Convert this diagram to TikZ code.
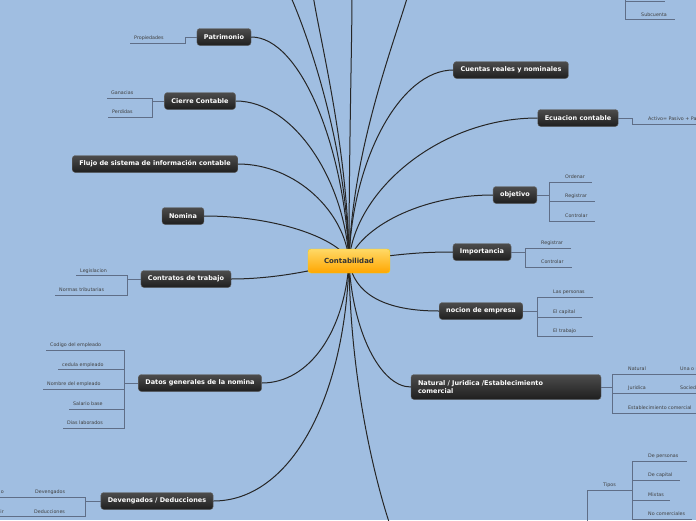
\documentclass[tikz,border=0pt]{standalone}
\usepackage{fontspec}
\setmainfont{DejaVu Sans}
\definecolor{lcol}{RGB}{95,110,135}
\begin{document}
\begin{tikzpicture}[x=1pt,y=-1pt,
  topic/.style={rounded corners=3pt,top color=black!70,bottom color=black!88,draw=black!60,
    text=white,font=\fontsize{6.5}{7.5}\selectfont\bfseries,minimum height=17pt,inner xsep=7pt,inner ysep=2pt},
  edge/.style={draw=black!85,line width=1pt},
  leaf/.style={font=\fontsize{4.8}{5}\selectfont,text=black!75,anchor=base west,inner sep=0pt},
  lline/.style={draw=lcol,line width=0.8pt}]
\path[use as bounding box,fill={rgb,255:red,160;green,190;blue,225}] (0,0) rectangle (696,520);
\begin{scope}
\clip (0,0) rectangle (696,520);
\coordinate (c) at (349,261);
\foreach \n/\x in {t1/290,t2/313,t3/352,t4/408}{\coordinate (\n) at (\x,-5);}
\coordinate (b1) at (390,525);
\coordinate (b2) at (587,530);
% topic nodes
\node[topic] (pat) at (224,37) {Patrimonio};
\node[topic] (cie) at (200,101) {Cierre Contable};
\node[topic] (flu) at (155,164) {Flujo de sistema de información contable};
\node[topic] (nom) at (183,216) {Nomina};
\node[topic] (con) at (186,279) {Contratos de trabajo};
\node[topic] (dat) at (200,383) {Datos generales de la nomina};
\node[topic] (dev) at (157,501) {Devengados / Deducciones};
\node[topic] (cue) at (511,70) {Cuentas reales y nominales};
\node[topic] (ecu) at (578,118) {Ecuacion contable};
\node[topic] (obj) at (515,195) {objetivo};
\node[topic] (imp) at (482,252) {Importancia};
\node[topic] (noc) at (481,311) {nocion de empresa};
\node[topic,text width=176pt,align=left,font=\fontsize{6.5}{8}\selectfont\bfseries,minimum height=25pt] (nat) at (506,387) {Natural / Juridica /Establecimiento\\comercial};
% edges
\begin{scope}[edge]
\draw (c) .. controls (345,149) and (301,37) .. (pat.east);
\draw (c) .. controls (345,181) and (294,101) .. (cie.east);
\draw (c) .. controls (345,212) and (296,164) .. (flu.east);
\draw (c) .. controls (340,240) and (280,216) .. (nom.east);
\draw (c) .. controls (300,275) and (260,279) .. (con.east);
\draw (c) .. controls (345,330) and (310,383) .. (dat.east);
\draw (c) .. controls (345,400) and (290,501) .. (dev.east);
\draw (c) .. controls (352,160) and (400,70) .. (cue.west);
\draw (c) .. controls (355,190) and (440,118) .. (ecu.west);
\draw (c) .. controls (360,228) and (420,195) .. (obj.west);
\draw (c) .. controls (400,254) and (420,252) .. (imp.west);
\draw (c) .. controls (355,300) and (395,311) .. (noc.west);
\draw (c) .. controls (352,330) and (380,387) .. (nat.west);
\draw (c) .. controls (347,150) and (310,40) .. (t1);
\draw (c) .. controls (348,150) and (320,40) .. (t2);
\draw (c) .. controls (349,150) and (352,40) .. (t3);
\draw (c) .. controls (352,150) and (395,40) .. (t4);
\draw (c) .. controls (350,380) and (375,480) .. (b1);
\end{scope}
\node[rounded corners=3pt,top color=yellow!50!orange!60,bottom color=orange!70!yellow,draw=yellow!70!orange,
  font=\fontsize{7}{8}\selectfont\bfseries,text=black!80,minimum width=82pt,minimum height=24pt] (ctr) at (c) {Contabilidad};
% leaves
\begin{scope}[lline]
\draw (pat.west) -- (185,37) -- (185,43) -- (130,43);
\draw (cie.west) -- (152,101); \draw (107,98) -- (152,98) -- (152,117) -- (108,117);
\draw (con.west) -- (127,279); \draw (76,275) -- (127,275) -- (127,295) -- (55,295);
\draw (dat.west) -- (124,383); \draw (46,350) -- (124,350) -- (124,428) -- (63,428);
\draw (58,369) -- (124,369); \draw (43,389) -- (124,389); \draw (69,409) -- (124,409);
\draw (dev.west) -- (85,501); \draw (0,497) -- (85,497) -- (85,516) -- (0,516);
\draw (ecu.east) -- (632,118) -- (632,124) -- (696,124);
\draw (625,-2) -- (625,19) -- (675,19); \draw (625,1) -- (665,1);
\draw (obj.east) -- (549,195); \draw (549,182) -- (592,182); \draw (549,182) -- (549,221) -- (595,221); \draw (549,201) -- (595,201);
\draw (imp.east) -- (525,252); \draw (571,248) -- (525,248) -- (525,267) -- (572,267);
\draw (noc.east) -- (537,311); \draw (593,297) -- (537,297) -- (537,336) -- (593,336); \draw (537,317) -- (582,317);
\draw (nat.east) -- (612,387); \draw (696,374) -- (612,374) -- (612,413) -- (696,413); \draw (612,393) -- (696,393);
\draw (b2) -- (587,490) -- (632,490); \draw (632,461) -- (687,461); \draw (632,461) -- (632,519) -- (692,519);
\draw (632,480) -- (680,480); \draw (632,500) -- (670,500);
\end{scope}
\node[leaf] (l1) at (134,39) {Propiedades};
\node[leaf] (l2) at (111,94) {Ganacias};
\node[leaf] (l3) at (112,113) {Perdidas};
\node[leaf] (l4) at (80,272) {Legislacion};
\node[leaf] (l5) at (59,291) {Normas tributarias};
\node[leaf] (l6) at (50,346) {Codigo del empleado};
\node[leaf] (l7) at (62,366) {cedula empleado};
\node[leaf] (l8) at (47,385) {Nombre del empleado};
\node[leaf] (l9) at (73,405) {Salario base};
\node[leaf] (l10) at (67,424) {Dias laborados};
\node[leaf] (l11) at (35,493) {Devengados};
\node[leaf] (l12) at (34,513) {Deducciones};
\node[leaf,anchor=base east] (l13) at (4,493) {o};
\node[leaf,anchor=base east] (l14) at (4,513) {ir};
\node[leaf] (r1) at (641,16) {Subcuenta};
\node[leaf] (r2) at (648,120) {Activo= Pasivo + Patrimonio};
\node[leaf] (r3) at (565,178) {Ordenar};
\node[leaf] (r4) at (565,197) {Registrar};
\node[leaf] (r5) at (565,217) {Controlar};
\node[leaf] (r6) at (541,244) {Registrar};
\node[leaf] (r7) at (541,263) {Controlar};
\node[leaf] (r8) at (553,293) {Las personas};
\node[leaf] (r9) at (553,313) {El capital};
\node[leaf] (r10) at (553,332) {El trabajo};
\node[leaf] (r11) at (628,370) {Natural};
\node[leaf] (r12) at (680,370) {Una o más personas};
\node[leaf] (r13) at (628,389) {Juridica};
\node[leaf] (r14) at (680,389) {Sociedad};
\node[leaf] (r15) at (628,409) {Establecimiento comercial};
\node[leaf] (r16) at (603,486) {Tipos};
\node[leaf] (r17) at (648,457) {De personas};
\node[leaf] (r18) at (648,476) {De capital};
\node[leaf] (r19) at (648,496) {Mixtas};
\node[leaf] (r20) at (648,515) {No comerciales};
\end{scope}
\end{tikzpicture}
\end{document}
